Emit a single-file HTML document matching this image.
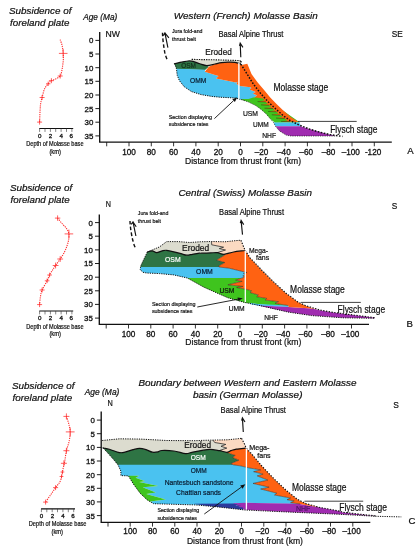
<!DOCTYPE html>
<html><head><meta charset="utf-8"><title>Molasse Basin</title>
<style>
html,body{margin:0;padding:0;background:#fff;}
svg{display:block;font-family:"Liberation Sans", sans-serif;}
</style></head><body>
<svg width="419" height="550" viewBox="0 0 419 550">
<rect x="0" y="0" width="419" height="550" fill="#fff"/>
<text x="9" y="13.8" font-size="9.9" font-style="italic" fill="#111" stroke="#111" stroke-width="0.22" textLength="62.4" lengthAdjust="spacingAndGlyphs">Subsidence of</text>
<text x="10" y="25.6" font-size="9.9" font-style="italic" fill="#111" stroke="#111" stroke-width="0.22" textLength="59.4" lengthAdjust="spacingAndGlyphs">foreland plate</text>
<path d="M60.2 39.6 C60.5 40.7 61.7 43.7 62.2 46 C62.7 48.3 63.0 51.1 63.2 53.4 C63.4 55.7 63.4 58.0 63.3 60 C63.2 62.0 63.0 63.4 62.7 65.2 C62.5 67.0 62.2 69.2 61.8 71 C61.4 72.8 61.2 74.7 60.2 76 C59.2 77.3 57.5 78.0 56 78.8 C54.5 79.6 52.6 79.9 51.4 80.7 C50.1 81.5 49.6 82.2 48.5 83.5 C47.4 84.8 45.7 86.5 44.6 88.8 C43.5 91.1 42.8 95.0 42.1 97.5 C41.4 100.0 40.9 101.9 40.6 104 C40.3 106.1 40.3 107.0 40.1 110 C39.9 113.0 39.7 120.1 39.6 122.1" fill="none" stroke="#ff2a2a" stroke-width="1.1" stroke-dasharray="1.2 1" />
<path d="M58.900000000000006 53.4 H67.5 M63.2 49.1 V57.699999999999996" fill="none" stroke="#ff2a2a" stroke-width="0.75" />
<path d="M57.7 76 H62.7 M60.2 73.5 V78.5" fill="none" stroke="#ff2a2a" stroke-width="0.75" />
<path d="M48.9 80.7 H53.9 M51.4 78.2 V83.2" fill="none" stroke="#ff2a2a" stroke-width="0.75" />
<path d="M46.0 83.8 H50.400000000000006 M48.2 81.6 V86.0" fill="none" stroke="#ff2a2a" stroke-width="0.75" />
<path d="M39.6 97.5 H44.6 M42.1 95.0 V100.0" fill="none" stroke="#ff2a2a" stroke-width="0.75" />
<path d="M37.1 122.1 H42.1 M39.6 119.6 V124.6" fill="none" stroke="#ff2a2a" stroke-width="0.75" />
<path d="M39.300000000000004 128.5 H73.2" fill="none" stroke="#111" stroke-width="1.15" />
<path d="M39.6 128.5 V131.9" fill="none" stroke="#333" stroke-width="0.6" />
<text x="39.8" y="137.6" font-size="6.2" text-anchor="middle" fill="#111" stroke="#111" stroke-width="0.3">0</text>
<path d="M45.0 128.5 V131.9" fill="none" stroke="#333" stroke-width="0.6" />
<path d="M50.4 128.5 V131.9" fill="none" stroke="#333" stroke-width="0.6" />
<text x="50.6" y="137.6" font-size="6.2" text-anchor="middle" fill="#111" stroke="#111" stroke-width="0.3">2</text>
<path d="M55.7 128.5 V131.9" fill="none" stroke="#333" stroke-width="0.6" />
<path d="M61.1 128.5 V131.9" fill="none" stroke="#333" stroke-width="0.6" />
<text x="61.3" y="137.6" font-size="6.2" text-anchor="middle" fill="#111" stroke="#111" stroke-width="0.3">4</text>
<path d="M66.5 128.5 V131.9" fill="none" stroke="#333" stroke-width="0.6" />
<path d="M71.9 128.5 V131.9" fill="none" stroke="#333" stroke-width="0.6" />
<text x="71.2" y="137.6" font-size="6.2" text-anchor="middle" fill="#111" stroke="#111" stroke-width="0.3">6</text>
<text x="26.3" y="146.4" font-size="6.3" fill="#111" stroke="#111" stroke-width="0.2" textLength="57.2" lengthAdjust="spacingAndGlyphs">Depth of Molasse base</text>
<text x="49.4" y="154.0" font-size="6.3" fill="#111" stroke="#111" stroke-width="0.2" textLength="11.5" lengthAdjust="spacingAndGlyphs">(km)</text>
<text x="83.2" y="20.3" font-size="8.6" font-style="italic" fill="#111" stroke="#111" stroke-width="0.22" textLength="34.1" lengthAdjust="spacingAndGlyphs">Age (Ma)</text>
<text x="173.8" y="19.1" font-size="9.9" font-style="italic" fill="#111" stroke="#111" stroke-width="0.22" textLength="144.0" lengthAdjust="spacingAndGlyphs">Western (French) Molasse Basin</text>
<text x="105.4" y="36.6" font-size="9.6" fill="#111" stroke="#111" stroke-width="0.22" textLength="14.4" lengthAdjust="spacingAndGlyphs">NW</text>
<text x="391.8" y="36.7" font-size="9.6" fill="#111" stroke="#111" stroke-width="0.22" textLength="11.0" lengthAdjust="spacingAndGlyphs">SE</text>
<path d="M99.7 32 V142.1 H391.8" fill="none" stroke="#111" stroke-width="1.35" />
<path d="M95.4 40.4 H99.7" fill="none" stroke="#111" stroke-width="0.95" />
<text x="93.3" y="43.3" font-size="7.9" text-anchor="end" fill="#111" stroke="#111" stroke-width="0.3">0</text>
<path d="M95.4 54.0 H99.7" fill="none" stroke="#111" stroke-width="0.95" />
<text x="93.3" y="56.9" font-size="7.9" text-anchor="end" fill="#111" stroke="#111" stroke-width="0.3">5</text>
<path d="M95.4 67.7 H99.7" fill="none" stroke="#111" stroke-width="0.95" />
<text x="93.3" y="70.6" font-size="7.9" text-anchor="end" fill="#111" stroke="#111" stroke-width="0.3">10</text>
<path d="M95.4 81.3 H99.7" fill="none" stroke="#111" stroke-width="0.95" />
<text x="93.3" y="84.2" font-size="7.9" text-anchor="end" fill="#111" stroke="#111" stroke-width="0.3">15</text>
<path d="M95.4 95.0 H99.7" fill="none" stroke="#111" stroke-width="0.95" />
<text x="93.3" y="97.9" font-size="7.9" text-anchor="end" fill="#111" stroke="#111" stroke-width="0.3">20</text>
<path d="M95.4 108.6 H99.7" fill="none" stroke="#111" stroke-width="0.95" />
<text x="93.3" y="111.5" font-size="7.9" text-anchor="end" fill="#111" stroke="#111" stroke-width="0.3">25</text>
<path d="M95.4 122.2 H99.7" fill="none" stroke="#111" stroke-width="0.95" />
<text x="93.3" y="125.1" font-size="7.9" text-anchor="end" fill="#111" stroke="#111" stroke-width="0.3">30</text>
<path d="M95.4 135.9 H99.7" fill="none" stroke="#111" stroke-width="0.95" />
<text x="93.3" y="138.8" font-size="7.9" text-anchor="end" fill="#111" stroke="#111" stroke-width="0.3">35</text>
<path d="M106.7 142.1 V146.29999999999998" fill="none" stroke="#111" stroke-width="0.85" />
<path d="M129.0 142.1 V146.29999999999998" fill="none" stroke="#111" stroke-width="0.85" />
<text x="129.0" y="154.9" font-size="8.2" text-anchor="middle" fill="#111" stroke="#111" stroke-width="0.3">100</text>
<path d="M151.3 142.1 V146.29999999999998" fill="none" stroke="#111" stroke-width="0.85" />
<text x="151.3" y="154.9" font-size="8.2" text-anchor="middle" fill="#111" stroke="#111" stroke-width="0.3">80</text>
<path d="M173.6 142.1 V146.29999999999998" fill="none" stroke="#111" stroke-width="0.85" />
<text x="173.6" y="154.9" font-size="8.2" text-anchor="middle" fill="#111" stroke="#111" stroke-width="0.3">60</text>
<path d="M195.9 142.1 V146.29999999999998" fill="none" stroke="#111" stroke-width="0.85" />
<text x="195.9" y="154.9" font-size="8.2" text-anchor="middle" fill="#111" stroke="#111" stroke-width="0.3">40</text>
<path d="M218.2 142.1 V146.29999999999998" fill="none" stroke="#111" stroke-width="0.85" />
<text x="218.2" y="154.9" font-size="8.2" text-anchor="middle" fill="#111" stroke="#111" stroke-width="0.3">20</text>
<path d="M240.5 142.1 V146.29999999999998" fill="none" stroke="#111" stroke-width="0.85" />
<text x="240.5" y="154.9" font-size="8.2" text-anchor="middle" fill="#111" stroke="#111" stroke-width="0.3">0</text>
<path d="M262.8 142.1 V146.29999999999998" fill="none" stroke="#111" stroke-width="0.85" />
<text x="261.6" y="154.9" font-size="8.2" text-anchor="middle" fill="#111" stroke="#111" stroke-width="0.3">–20</text>
<path d="M285.1 142.1 V146.29999999999998" fill="none" stroke="#111" stroke-width="0.85" />
<text x="283.9" y="154.9" font-size="8.2" text-anchor="middle" fill="#111" stroke="#111" stroke-width="0.3">–40</text>
<path d="M307.4 142.1 V146.29999999999998" fill="none" stroke="#111" stroke-width="0.85" />
<text x="306.2" y="154.9" font-size="8.2" text-anchor="middle" fill="#111" stroke="#111" stroke-width="0.3">–60</text>
<path d="M329.7 142.1 V146.29999999999998" fill="none" stroke="#111" stroke-width="0.85" />
<text x="328.5" y="154.9" font-size="8.2" text-anchor="middle" fill="#111" stroke="#111" stroke-width="0.3">–80</text>
<path d="M352.0 142.1 V146.29999999999998" fill="none" stroke="#111" stroke-width="0.85" />
<text x="350.8" y="154.9" font-size="8.2" text-anchor="middle" fill="#111" stroke="#111" stroke-width="0.3">–100</text>
<path d="M374.3 142.1 V146.29999999999998" fill="none" stroke="#111" stroke-width="0.85" />
<text x="373.1" y="154.9" font-size="8.2" text-anchor="middle" fill="#111" stroke="#111" stroke-width="0.3">-120</text>
<text x="185" y="164" font-size="9.8" fill="#111" stroke="#111" stroke-width="0.22" textLength="116" lengthAdjust="spacingAndGlyphs">Distance from thrust front (km)</text>
<text x="407.3" y="153.6" font-size="9.6" fill="#111" stroke="#111" stroke-width="0.22">A</text>
<path d="M188 61 L191.7 59.3 L215 59.7 L240.5 60.5 L240.9 64.2 L235 62.3 L228 62.1 L221.5 62.7 L215 64 L206.8 65.6 L199.8 63.8 L193 61.4 Z" fill="#dcdccf" />
<path d="M174.2 63.6 L181.7 62.2 L188 61 L193 61.4 L199.8 63.8 L206.8 65.6 L208.8 66.7 L205 69.9 L176.5 68.9 Z" fill="#2e7444" />
<path d="M176.5 68.7 L205 69.7 L204.8 71.8 L215 75 L218.5 76 L216 78.4 L235.9 82.6 L237.5 81.8 L236.5 84 L240 86 L250.4 87.2 L251.5 88 L249.4 89.5 L255.8 92 L252.9 93.4 L257.2 95.5 L254 97.3 L252 100.6 L246 100.2 L240 99.2 L235 98 L220 97.2 L211.8 96.4 L201 94.6 L191.5 91.6 L184.3 86.8 L179.5 80.8 L177.2 75.3 L176.5 69 Z" fill="#4ac2f0" />
<path d="M240.5 99 L248.6 98.9 L254 97.3 L262 96 L300 122.4 L275.1 122.8 L270.5 119 L266.5 114.3 L261.5 109.7 L255.8 105.6 L248.6 102.1 L244 100.4 Z" fill="#3fc41e" />
<path d="M254 97.3 L257.2 95.5 L252.9 93.4 L255.8 92 L249.4 89.5 L251.5 88 L250.4 87.2 L240 86 L236.5 84 L237.5 81.8 L235.9 82.6 L216 78.4 L218.5 76 L215 75 L204.8 71.8 L208.8 66.7 L215 64 L221.5 62.7 L228 62.1 L235 62.3 L240.9 64.2 L241.7 65 L247.3 63.8 L251.5 73.9 L257.5 82.3 L264.5 90.6 L270 97.3 L277 104.5 L283 110.2 L291 117.2 L298.6 122 L290.1 121.7 L281.1 121.4 L287.6 120.4 L284.7 118.4 L276.1 118.1 L282.9 117.1 L280.2 115.1 L271.8 114.8 L278.7 113.8 L276.5 111.8 L268.1 111.5 L275.1 110.5 L272.9 108.5 L264.5 108.2 L271.5 107.2 L269.3 105.2 L261.0 104.9 L267.9 103.9 L265.8 101.9 L257.6 101.6 L264.7 100.6 L262.9 98.6 Z" fill="#ff6212" />
<path d="M257.6 101.6 L265.8 101.9" fill="none" stroke="#0c3a0c" stroke-width="0.5" />
<path d="M261.0 104.9 L269.3 105.2" fill="none" stroke="#0c3a0c" stroke-width="0.5" />
<path d="M264.5 108.2 L272.9 108.5" fill="none" stroke="#0c3a0c" stroke-width="0.5" />
<path d="M268.1 111.5 L276.5 111.8" fill="none" stroke="#0c3a0c" stroke-width="0.5" />
<path d="M271.8 114.8 L280.2 115.1" fill="none" stroke="#0c3a0c" stroke-width="0.5" />
<path d="M276.1 118.1 L284.7 118.4" fill="none" stroke="#0c3a0c" stroke-width="0.5" />
<path d="M281.1 121.4 L290.1 121.7" fill="none" stroke="#0c3a0c" stroke-width="0.5" />
<path d="M273.5 122.6 L299.3 122.6 L300.8 126.2 L275.6 126.2 Z" fill="#4ac2f0" />
<path d="M275.6 126.2 L300.5 126.2 L313.9 130.3 L327.3 134.1 L336 135.9 L291 135.9 L286.2 135 L279.5 130.9 Z" fill="#a02cb0" />
<path d="M244 100.4 L248.6 102.1 L255.8 105.6 L261.5 109.7 L266.5 114.3 L270.5 119 L273.7 122.6 L275.7 126.6 L279.5 130.9 L286.2 135.2 L291 136 L336 136" fill="none" stroke="#111" stroke-width="0.7" stroke-dasharray="1.2 1.1" />
<path d="M174.2 63.6 C175.4 63.4 179.4 62.6 181.7 62.2 C184.0 61.8 186.1 61.1 188 61 C189.9 60.9 191.0 60.9 193 61.4 C195.0 61.9 197.5 63.1 199.8 63.8 C202.1 64.5 204.3 65.6 206.8 65.6 C209.3 65.6 212.6 64.5 215 64 C217.4 63.5 219.3 63.0 221.5 62.7 C223.7 62.4 225.8 62.2 228 62.1 C230.2 62.0 232.8 62.0 235 62.3 C237.2 62.6 239.9 63.7 240.9 64" fill="none" stroke="#111" stroke-width="1.2" />
<path d="M191.7 59.4 L215 59.8 L240.5 60.6" fill="none" stroke="#111" stroke-width="1.15" stroke-dasharray="1.3 1.1" />
<path d="M174.4 63.6 Q175.8 66 176.5 69 L177.2 75.3 L179.5 80.8 L184.3 86.8 L191.5 91.6 L201 94.6 L211.8 96.4 L220 97.2 L235 98 L240 99.2 L244 100.4" fill="none" stroke="#111" stroke-width="1.0" stroke-dasharray="1.2 1.1" />
<path d="M240.9 61 L240.9 64.2 L246.7 73.4 L253.3 84 L260.5 93.3 L268.6 102.3 L275.8 109 L283 115.5 L290.1 120.5 L299 125 L310 129.3 L320 132.3 L330 134.6 L342.5 136.4" fill="none" stroke="#111" stroke-width="1.5" stroke-dasharray="1.6 1.5" />
<path d="M238.9 62.8 V99.2" fill="none" stroke="#fff" stroke-width="1.4" />
<path d="M298 121.4 H356.7" fill="none" stroke="#111" stroke-width="0.8" />
<path d="M162.5 32.7 Q162.6 38 163.4 43.5 Q164 48.5 164.9 53 Q166 57.5 167.9 61" fill="none" stroke="#111" stroke-width="1.4" stroke-dasharray="3.6 2.2" />
<path d="M167.9 47.7 L164.9 32.9 M163.3 35.6 L164.9 32.9 L168.9 37.9" fill="none" stroke="#111" stroke-width="1.15" stroke-linejoin="miter"/>
<text x="172" y="33.3" font-size="6.0" fill="#111" stroke="#111" stroke-width="0.2" textLength="30.5" lengthAdjust="spacingAndGlyphs">Jura fold-and</text>
<text x="172" y="40.5" font-size="6.0" fill="#111" stroke="#111" stroke-width="0.2" textLength="23.9" lengthAdjust="spacingAndGlyphs">thrust belt</text>
<text x="218.5" y="37" font-size="8.8" fill="#111" stroke="#111" stroke-width="0.22" textLength="64.9" lengthAdjust="spacingAndGlyphs">Basal Alpine Thrust</text>
<path d="M240.8 57.3 L240.2 43.2 M239.5 45.8 L240.2 43.2 L242.9 47.4" fill="none" stroke="#111" stroke-width="1.15" stroke-linejoin="miter"/>
<text x="205.3" y="55.2" font-size="9.6" fill="#111" stroke="#111" stroke-width="0.22" textLength="26.5" lengthAdjust="spacingAndGlyphs">Eroded</text>
<text x="181.2" y="68" font-size="7.6" fill="#12301c" stroke="#12301c" stroke-width="0.22" textLength="14.8" lengthAdjust="spacingAndGlyphs">OSM</text>
<text x="190" y="83.4" font-size="8" fill="#0a1c30" stroke="#0a1c30" stroke-width="0.22" textLength="16.4" lengthAdjust="spacingAndGlyphs">OMM</text>
<text x="168.8" y="118.6" font-size="6.0" fill="#111" stroke="#111" stroke-width="0.2" textLength="43.2" lengthAdjust="spacingAndGlyphs">Section displaying</text>
<text x="168.8" y="125.8" font-size="6.0" fill="#111" stroke="#111" stroke-width="0.2" textLength="39.7" lengthAdjust="spacingAndGlyphs">subsidence rates</text>
<path d="M214.4 118.6 L233.6 100.6" fill="none" stroke="#111" stroke-width="0.9" />
<path d="M237.3 97.2 L234.9 102.0 L232.3 99.2 Z" fill="#111" />
<text x="242.9" y="116.2" font-size="8" fill="#111" stroke="#111" stroke-width="0.22" textLength="15.1" lengthAdjust="spacingAndGlyphs">USM</text>
<text x="253" y="127.4" font-size="8" fill="#111" stroke="#111" stroke-width="0.22" textLength="15.6" lengthAdjust="spacingAndGlyphs">UMM</text>
<text x="262.2" y="137.7" font-size="8" fill="#111" stroke="#111" stroke-width="0.22" textLength="13.8" lengthAdjust="spacingAndGlyphs">NHF</text>
<text x="273.5" y="91.3" font-size="10.3" fill="#111" stroke="#111" stroke-width="0.22" textLength="54.8" lengthAdjust="spacingAndGlyphs">Molasse stage</text>
<text x="330.2" y="132.5" font-size="10.3" fill="#111" stroke="#111" stroke-width="0.22" textLength="47.3" lengthAdjust="spacingAndGlyphs">Flysch stage</text>
<text x="10" y="190.6" font-size="9.9" font-style="italic" fill="#111" stroke="#111" stroke-width="0.22" textLength="62.2" lengthAdjust="spacingAndGlyphs">Subsidence of</text>
<text x="10.5" y="202.6" font-size="9.9" font-style="italic" fill="#111" stroke="#111" stroke-width="0.22" textLength="59.2" lengthAdjust="spacingAndGlyphs">foreland plate</text>
<path d="M57.6 218.1 C58.3 219.0 60.5 221.8 62 223.5 C63.5 225.2 65.3 226.8 66.5 228.5 C67.7 230.2 68.6 232.0 68.9 233.9 C69.2 235.8 68.9 238.1 68.6 240 C68.3 241.9 67.9 243.2 67.2 245.2 C66.5 247.2 65.7 249.7 64.5 252 C63.3 254.3 61.7 256.8 60.2 259 C58.7 261.2 56.9 263.7 55.6 265.5 C54.3 267.3 53.6 268.4 52.6 270 C51.6 271.6 50.5 273.2 49.6 275 C48.7 276.8 48.4 278.3 47.1 280.8 C45.9 283.3 43.2 287.3 42.1 290 C41.0 292.7 40.8 294.6 40.4 297 C40.0 299.4 39.7 303.3 39.6 304.6" fill="none" stroke="#ff2a2a" stroke-width="1.1" stroke-dasharray="1.2 1" />
<path d="M54.9 218.1 H60.300000000000004 M57.6 215.4 V220.79999999999998" fill="none" stroke="#ff2a2a" stroke-width="0.75" />
<path d="M64.60000000000001 233.9 H73.2 M68.9 229.6 V238.20000000000002" fill="none" stroke="#ff2a2a" stroke-width="0.75" />
<path d="M57.300000000000004 259 H63.1 M60.2 256.1 V261.9" fill="none" stroke="#ff2a2a" stroke-width="0.75" />
<path d="M52.7 265.5 H58.5 M55.6 262.6 V268.4" fill="none" stroke="#ff2a2a" stroke-width="0.75" />
<path d="M47.300000000000004 275 H51.9 M49.6 272.7 V277.3" fill="none" stroke="#ff2a2a" stroke-width="0.75" />
<path d="M44.800000000000004 280.8 H49.4 M47.1 278.5 V283.1" fill="none" stroke="#ff2a2a" stroke-width="0.75" />
<path d="M39.6 290 H44.6 M42.1 287.5 V292.5" fill="none" stroke="#ff2a2a" stroke-width="0.75" />
<path d="M37.1 304.6 H42.1 M39.6 302.1 V307.1" fill="none" stroke="#ff2a2a" stroke-width="0.75" />
<path d="M39.300000000000004 311.0 H73.2" fill="none" stroke="#111" stroke-width="1.15" />
<path d="M39.6 311.0 V314.40000000000003" fill="none" stroke="#333" stroke-width="0.6" />
<text x="39.8" y="319.7" font-size="6.2" text-anchor="middle" fill="#111" stroke="#111" stroke-width="0.3">0</text>
<path d="M45.0 311.0 V314.40000000000003" fill="none" stroke="#333" stroke-width="0.6" />
<path d="M50.4 311.0 V314.40000000000003" fill="none" stroke="#333" stroke-width="0.6" />
<text x="50.6" y="319.7" font-size="6.2" text-anchor="middle" fill="#111" stroke="#111" stroke-width="0.3">2</text>
<path d="M55.7 311.0 V314.40000000000003" fill="none" stroke="#333" stroke-width="0.6" />
<path d="M61.1 311.0 V314.40000000000003" fill="none" stroke="#333" stroke-width="0.6" />
<text x="61.3" y="319.7" font-size="6.2" text-anchor="middle" fill="#111" stroke="#111" stroke-width="0.3">4</text>
<path d="M66.5 311.0 V314.40000000000003" fill="none" stroke="#333" stroke-width="0.6" />
<path d="M71.9 311.0 V314.40000000000003" fill="none" stroke="#333" stroke-width="0.6" />
<text x="71.2" y="319.7" font-size="6.2" text-anchor="middle" fill="#111" stroke="#111" stroke-width="0.3">6</text>
<text x="26.3" y="329" font-size="6.3" fill="#111" stroke="#111" stroke-width="0.2" textLength="57.2" lengthAdjust="spacingAndGlyphs">Depth of Molasse base</text>
<text x="49.4" y="336.1" font-size="6.3" fill="#111" stroke="#111" stroke-width="0.2" textLength="11.5" lengthAdjust="spacingAndGlyphs">(km)</text>
<text x="178.5" y="196.2" font-size="9.9" font-style="italic" fill="#111" stroke="#111" stroke-width="0.22" textLength="133.5" lengthAdjust="spacingAndGlyphs">Central (Swiss) Molasse Basin</text>
<text x="105.7" y="207.3" font-size="9.6" fill="#111" stroke="#111" stroke-width="0.22" textLength="5.2" lengthAdjust="spacingAndGlyphs">N</text>
<text x="391.8" y="209.3" font-size="9.6" fill="#111" stroke="#111" stroke-width="0.22" textLength="5.5" lengthAdjust="spacingAndGlyphs">S</text>
<path d="M99.3 214.6 V324.3 H369" fill="none" stroke="#111" stroke-width="1.35" />
<path d="M95.0 222.6 H99.3" fill="none" stroke="#111" stroke-width="0.95" />
<text x="92.89999999999999" y="225.5" font-size="7.9" text-anchor="end" fill="#111" stroke="#111" stroke-width="0.3">0</text>
<path d="M95.0 236.2 H99.3" fill="none" stroke="#111" stroke-width="0.95" />
<text x="92.89999999999999" y="239.1" font-size="7.9" text-anchor="end" fill="#111" stroke="#111" stroke-width="0.3">5</text>
<path d="M95.0 249.9 H99.3" fill="none" stroke="#111" stroke-width="0.95" />
<text x="92.89999999999999" y="252.8" font-size="7.9" text-anchor="end" fill="#111" stroke="#111" stroke-width="0.3">10</text>
<path d="M95.0 263.5 H99.3" fill="none" stroke="#111" stroke-width="0.95" />
<text x="92.89999999999999" y="266.4" font-size="7.9" text-anchor="end" fill="#111" stroke="#111" stroke-width="0.3">15</text>
<path d="M95.0 277.2 H99.3" fill="none" stroke="#111" stroke-width="0.95" />
<text x="92.89999999999999" y="280.1" font-size="7.9" text-anchor="end" fill="#111" stroke="#111" stroke-width="0.3">20</text>
<path d="M95.0 290.8 H99.3" fill="none" stroke="#111" stroke-width="0.95" />
<text x="92.89999999999999" y="293.7" font-size="7.9" text-anchor="end" fill="#111" stroke="#111" stroke-width="0.3">25</text>
<path d="M95.0 304.4 H99.3" fill="none" stroke="#111" stroke-width="0.95" />
<text x="92.89999999999999" y="307.3" font-size="7.9" text-anchor="end" fill="#111" stroke="#111" stroke-width="0.3">30</text>
<path d="M95.0 318.1 H99.3" fill="none" stroke="#111" stroke-width="0.95" />
<text x="92.89999999999999" y="321.0" font-size="7.9" text-anchor="end" fill="#111" stroke="#111" stroke-width="0.3">35</text>
<path d="M106.2 324.3 V328.5" fill="none" stroke="#111" stroke-width="0.85" />
<path d="M128.5 324.3 V328.5" fill="none" stroke="#111" stroke-width="0.85" />
<text x="128.5" y="337" font-size="8.2" text-anchor="middle" fill="#111" stroke="#111" stroke-width="0.3">100</text>
<path d="M150.8 324.3 V328.5" fill="none" stroke="#111" stroke-width="0.85" />
<text x="150.8" y="337" font-size="8.2" text-anchor="middle" fill="#111" stroke="#111" stroke-width="0.3">80</text>
<path d="M173.1 324.3 V328.5" fill="none" stroke="#111" stroke-width="0.85" />
<text x="173.1" y="337" font-size="8.2" text-anchor="middle" fill="#111" stroke="#111" stroke-width="0.3">60</text>
<path d="M195.4 324.3 V328.5" fill="none" stroke="#111" stroke-width="0.85" />
<text x="195.4" y="337" font-size="8.2" text-anchor="middle" fill="#111" stroke="#111" stroke-width="0.3">40</text>
<path d="M217.7 324.3 V328.5" fill="none" stroke="#111" stroke-width="0.85" />
<text x="217.7" y="337" font-size="8.2" text-anchor="middle" fill="#111" stroke="#111" stroke-width="0.3">20</text>
<path d="M240.0 324.3 V328.5" fill="none" stroke="#111" stroke-width="0.85" />
<text x="240.0" y="337" font-size="8.2" text-anchor="middle" fill="#111" stroke="#111" stroke-width="0.3">0</text>
<path d="M262.3 324.3 V328.5" fill="none" stroke="#111" stroke-width="0.85" />
<text x="261.1" y="337" font-size="8.2" text-anchor="middle" fill="#111" stroke="#111" stroke-width="0.3">–20</text>
<path d="M284.6 324.3 V328.5" fill="none" stroke="#111" stroke-width="0.85" />
<text x="283.4" y="337" font-size="8.2" text-anchor="middle" fill="#111" stroke="#111" stroke-width="0.3">–40</text>
<path d="M306.9 324.3 V328.5" fill="none" stroke="#111" stroke-width="0.85" />
<text x="305.7" y="337" font-size="8.2" text-anchor="middle" fill="#111" stroke="#111" stroke-width="0.3">–60</text>
<path d="M329.2 324.3 V328.5" fill="none" stroke="#111" stroke-width="0.85" />
<text x="328.0" y="337" font-size="8.2" text-anchor="middle" fill="#111" stroke="#111" stroke-width="0.3">–80</text>
<path d="M351.5 324.3 V328.5" fill="none" stroke="#111" stroke-width="0.85" />
<text x="350.3" y="337" font-size="8.2" text-anchor="middle" fill="#111" stroke="#111" stroke-width="0.3">–100</text>
<text x="185.3" y="345" font-size="9.8" fill="#111" stroke="#111" stroke-width="0.22" textLength="116.0" lengthAdjust="spacingAndGlyphs">Distance from thrust front (km)</text>
<text x="406.6" y="326.5" font-size="9.6" fill="#111" stroke="#111" stroke-width="0.22">B</text>
<path d="M147.3 252 L159.5 246.9 L166.6 241.6 L178 241.6 L189.7 242.5 L200 241.8 L211.5 241.6 L211.7 244.8 L223.6 247.2 L219.3 248.6 L225.5 250 L217.4 252.6 L217.4 252.7 L210.7 252.9 L201.6 253.2 L198.0 253.3 L192.4 254.3 L186.7 255.2 L181.0 253.7 L173.8 251.8 L166.6 250.3 L162.3 250.8 L156.6 252.6 L152.3 250.8 L147.3 252.0 Z" fill="#dcdccf" />
<path d="M211.5 241.6 L225 241.8 L234 240.8 L240.9 240.2 L245.1 250.6 L233.6 252 L224 254.3 L217.4 252.6 L225.5 250 L219.3 248.6 L223.6 247.2 L211.7 244.8 Z" fill="#fbdac2" />
<path d="M147.3 252 L152.3 250.8 L156.6 252.6 L162.3 250.8 L166.6 250.3 L173.8 251.8 L181 253.7 L186.7 255.2 L192.4 254.3 L198 253.3 L201.6 253.2 L210.7 252.9 L217.4 252.7 L224 254.3 L225.5 254.5 L216.6 260.1 L224.9 262.5 L218.9 265.8 L218.9 267.3 L140.6 267.3 L140.9 265.5 Z" fill="#2e7444" />
<path d="M140.6 267 L218.9 267 L229.1 268.2 L245.8 272.3 L247 272.5 L243.4 273.5 L245.8 274.7 L242.8 275.9 L244.6 276.8 L242.2 277.9 L187.3 278 L173.8 274.9 L159.5 273.6 L146.6 273 L143 272.3 L140.1 269.5 Z" fill="#4ac2f0" />
<path d="M187.3 277.9 L242.2 277.9 L235.7 280.1 L242.2 281.3 L227.9 284.8 L242.8 286.4 L236.7 287.6 L245.9 289.2 L251.7 290.9 L250 292.5 L258.4 295 L256.7 296.7 L266.8 298.4 L265.1 300 L278.5 301.7 L275.1 303.4 L288.5 305.6 L280.1 305.9 L258.4 304.2 L245.3 302.7 L244.4 302.4 L227.7 297.7 L203.9 287.2 Z" fill="#3fc41e" />
<path d="M249 302.8 L258.4 304 L288.5 305.6 L288.5 307 L261 306.2 L251.6 304.4 Z" fill="#4ac2f0" />
<path d="M258 305.4 L288.5 306.9 L311.6 308.5 L321 310.5 L333.3 312.5 L354.8 315.3 L375 317.8 L375 318.3 L342.9 317.8 L319 315.9 L311.6 315.6 L287.7 312 Z" fill="#a02cb0" />
<path d="M225.5 254.5 L233.4 251.9 L245.1 250.6 L250 258 L261.9 270.5 L273.9 282.4 L285.8 293.2 L297.7 302.1 L306 306 L316 309.3 L311.6 308.5 L288.5 306.9 L288.5 305.6 L275.1 303.4 L278.5 301.7 L265.1 300 L266.8 298.4 L256.7 296.7 L258.4 295 L250 292.5 L251.7 290.9 L245.9 289.2 L236.7 287.6 L242.8 286.4 L227.9 284.8 L242.2 281.3 L235.7 280.1 L242.2 277.9 L242.2 277.9 L244.6 276.8 L242.8 275.9 L245.8 274.7 L243.4 273.5 L247 272.5 L245.8 272.3 L229.1 268.2 L218.9 267 L218.9 265.8 L224.9 262.5 L216.6 260.1 L225.5 254.5 Z" fill="#ff6212" />
<path d="M225.5 254.5 L216.6 260.1 L224.9 262.5 L218.9 265.8 L218.9 267 L229.1 268.2 L245.8 272.3 L247 272.5 L243.4 273.5 L245.8 274.7 L242.8 275.9 L244.6 276.8 L242.2 277.9 L242.2 277.9 L235.7 280.1 L242.2 281.3 L227.9 284.8 L242.8 286.4 L236.7 287.6 L245.9 289.2 L251.7 290.9 L250 292.5 L258.4 295 L256.7 296.7 L266.8 298.4 L265.1 300 L278.5 301.7 L275.1 303.4 L288.5 305.6" fill="none" stroke="#1a1a1a" stroke-width="0.45" stroke-linejoin="round"/>
<path d="M147.3 252 C148.1 251.8 150.8 250.7 152.3 250.8 C153.9 250.9 154.9 252.6 156.6 252.6 C158.3 252.6 160.6 251.2 162.3 250.8 C164.0 250.4 164.7 250.1 166.6 250.3 C168.5 250.5 171.4 251.2 173.8 251.8 C176.2 252.4 178.8 253.1 181 253.7 C183.2 254.3 184.8 255.1 186.7 255.2 C188.6 255.3 190.5 254.6 192.4 254.3 C194.3 254.0 196.5 253.5 198 253.3 C199.5 253.1 199.5 253.3 201.6 253.2 C203.7 253.1 208.1 253.0 210.7 252.9 C213.3 252.8 215.2 252.5 217.4 252.7 C219.6 252.9 221.3 254.4 224 254.3 C226.7 254.2 230.1 252.6 233.6 252 C237.1 251.4 243.2 250.8 245.1 250.5" fill="none" stroke="#111" stroke-width="1.2" />
<path d="M211.5 241.6 L211.7 244.8 L223.6 247.2 L219.3 248.6 L225.5 250 L217.4 252.6" fill="none" stroke="#111" stroke-width="0.7" />
<path d="M147.3 252 L159.5 246.9 L166.6 241.6 L178 241.6 L189.7 242.5 L200 241.8 L211.5 241.5 L225 241.8 L234 240.8 L240.9 240.2" fill="none" stroke="#111" stroke-width="1.0" stroke-dasharray="1.2 1.1" />
<path d="M147.3 252 L140.9 265.5 L140.1 269.5 L143 272.3 L146.6 273 L159.5 273.6 L173.8 274.9 L187.3 278 L203.9 287.2 L227.7 297.7 L244.4 302.4 L261.1 305.8 L287.7 312 L311.6 315.6 L342.9 317.8 L375 318.3" fill="none" stroke="#111" stroke-width="1.0" stroke-dasharray="1.2 1.1" />
<path d="M240.9 240.2 L245.1 250.3 L250 257.8 L261.9 270.3 L273.9 282.2 L285.8 293 L297.7 301.9 L306 305.8 L321 310.3 L333.3 312.4 L354.8 315.2 L375 317.7" fill="none" stroke="#111" stroke-width="1.15" stroke-dasharray="1.4 1.4" />
<path d="M245.3 250.5 V302" fill="none" stroke="#fff" stroke-width="1.3" />
<path d="M300.9 302.4 H360.8" fill="none" stroke="#111" stroke-width="0.8" />
<path d="M130 220.9 Q130.2 227 131.4 233.4 Q132 237.5 133 241 Q134 245.5 135.9 248.8" fill="none" stroke="#111" stroke-width="1.4" stroke-dasharray="3.6 2.2" />
<path d="M135.9 236 L133 221.9 M131.2 224.4 L133 221.9 L136.2 226.7" fill="none" stroke="#111" stroke-width="1.15" stroke-linejoin="miter"/>
<text x="137.8" y="215" font-size="6.0" fill="#111" stroke="#111" stroke-width="0.2" textLength="30.6" lengthAdjust="spacingAndGlyphs">Jura fold-and</text>
<text x="137.8" y="222.8" font-size="6.0" fill="#111" stroke="#111" stroke-width="0.2" textLength="23.2" lengthAdjust="spacingAndGlyphs">thrust belt</text>
<text x="219.1" y="214.8" font-size="8.8" fill="#111" stroke="#111" stroke-width="0.22" textLength="64.9" lengthAdjust="spacingAndGlyphs">Basal Alpine Thrust</text>
<path d="M242.5 234.6 L241.1 220.5 M240.3 223.2 L241.1 220.5 L243.7 224.6" fill="none" stroke="#111" stroke-width="1.15" stroke-linejoin="miter"/>
<text x="182" y="250.5" font-size="9.6" fill="#111" stroke="#111" stroke-width="0.22" textLength="27.2" lengthAdjust="spacingAndGlyphs">Eroded</text>
<text x="165" y="262.2" font-size="7.6" fill="#fff" stroke="#fff" stroke-width="0.22" textLength="15.6" lengthAdjust="spacingAndGlyphs">OSM</text>
<text x="196.1" y="274.4" font-size="8" fill="#0a1c30" stroke="#0a1c30" stroke-width="0.22" textLength="16.7" lengthAdjust="spacingAndGlyphs">OMM</text>
<text x="248.9" y="252.5" font-size="8" fill="#111" stroke="#111" stroke-width="0.22" textLength="19.1" lengthAdjust="spacingAndGlyphs">Mega-</text>
<text x="256" y="259.7" font-size="8" fill="#111" stroke="#111" stroke-width="0.22" textLength="13.1" lengthAdjust="spacingAndGlyphs">fans</text>
<text x="151.9" y="306" font-size="6.0" fill="#111" stroke="#111" stroke-width="0.2" textLength="43.5" lengthAdjust="spacingAndGlyphs">Section displaying</text>
<text x="151.9" y="313.2" font-size="6.0" fill="#111" stroke="#111" stroke-width="0.2" textLength="40.6" lengthAdjust="spacingAndGlyphs">subsidence rates</text>
<path d="M197.3 307 L237.9 299.2" fill="none" stroke="#111" stroke-width="0.9" />
<path d="M242.8 298.3 L238.2 301.1 L237.5 297.4 Z" fill="#111" />
<text x="219.4" y="293.4" font-size="8" fill="#111" stroke="#111" stroke-width="0.22" textLength="15.0" lengthAdjust="spacingAndGlyphs">USM</text>
<text x="228.7" y="310.8" font-size="8" fill="#111" stroke="#111" stroke-width="0.22" textLength="16.0" lengthAdjust="spacingAndGlyphs">UMM</text>
<text x="264.2" y="320.1" font-size="8" fill="#111" stroke="#111" stroke-width="0.22" textLength="13.7" lengthAdjust="spacingAndGlyphs">NHF</text>
<text x="290.1" y="293.3" font-size="10.3" fill="#111" stroke="#111" stroke-width="0.22" textLength="54.7" lengthAdjust="spacingAndGlyphs">Molasse stage</text>
<text x="337.6" y="313.3" font-size="10.3" fill="#111" stroke="#111" stroke-width="0.22" textLength="47.5" lengthAdjust="spacingAndGlyphs">Flysch stage</text>
<text x="12" y="388.8" font-size="9.9" font-style="italic" fill="#111" stroke="#111" stroke-width="0.22" textLength="62.4" lengthAdjust="spacingAndGlyphs">Subsidence of</text>
<text x="12.5" y="400.6" font-size="9.9" font-style="italic" fill="#111" stroke="#111" stroke-width="0.22" textLength="59.7" lengthAdjust="spacingAndGlyphs">foreland plate</text>
<path d="M66.4 416.4 C66.8 417.7 68.2 421.4 68.8 424 C69.4 426.6 70.1 429.1 70.2 431.9 C70.3 434.7 69.8 437.9 69.2 441 C68.6 444.1 67.2 447.3 66.4 450.7 C65.7 454.1 65.2 458.6 64.7 461.5 C64.2 464.4 63.6 465.9 63.2 468 C62.8 470.1 62.7 471.6 62.2 473.8 C61.7 476.0 61.3 479.0 60.2 481.3 C59.1 483.6 57.2 485.3 55.6 487.6 C54.0 489.9 52.2 492.6 50.5 495 C48.8 497.4 46.4 500.9 45.6 502.1" fill="none" stroke="#ff2a2a" stroke-width="1.1" stroke-dasharray="1.2 1" />
<path d="M63.400000000000006 416.4 H69.4 M66.4 413.4 V419.4" fill="none" stroke="#ff2a2a" stroke-width="0.75" />
<path d="M65.8 431.9 H74.60000000000001 M70.2 427.5 V436.29999999999995" fill="none" stroke="#ff2a2a" stroke-width="0.75" />
<path d="M63.400000000000006 450.7 H69.4 M66.4 447.7 V453.7" fill="none" stroke="#ff2a2a" stroke-width="0.75" />
<path d="M60.9 463.3 H66.9 M63.9 460.3 V466.3" fill="none" stroke="#ff2a2a" stroke-width="0.75" />
<path d="M60.5 472 H64.3 M62.4 470.1 V473.9" fill="none" stroke="#ff2a2a" stroke-width="0.75" />
<path d="M59.6 476.5 H63.4 M61.5 474.6 V478.4" fill="none" stroke="#ff2a2a" stroke-width="0.75" />
<path d="M53.1 487.6 H58.1 M55.6 485.1 V490.1" fill="none" stroke="#ff2a2a" stroke-width="0.75" />
<path d="M43.1 502.1 H48.1 M45.6 499.6 V504.6" fill="none" stroke="#ff2a2a" stroke-width="0.75" />
<path d="M41.1 508.79999999999995 H75.0" fill="none" stroke="#111" stroke-width="1.15" />
<path d="M41.4 508.79999999999995 V512.1999999999999" fill="none" stroke="#333" stroke-width="0.6" />
<text x="41.6" y="517.7" font-size="6.2" text-anchor="middle" fill="#111" stroke="#111" stroke-width="0.3">0</text>
<path d="M46.8 508.79999999999995 V512.1999999999999" fill="none" stroke="#333" stroke-width="0.6" />
<path d="M52.2 508.79999999999995 V512.1999999999999" fill="none" stroke="#333" stroke-width="0.6" />
<text x="52.4" y="517.7" font-size="6.2" text-anchor="middle" fill="#111" stroke="#111" stroke-width="0.3">2</text>
<path d="M57.5 508.79999999999995 V512.1999999999999" fill="none" stroke="#333" stroke-width="0.6" />
<path d="M62.9 508.79999999999995 V512.1999999999999" fill="none" stroke="#333" stroke-width="0.6" />
<text x="63.1" y="517.7" font-size="6.2" text-anchor="middle" fill="#111" stroke="#111" stroke-width="0.3">4</text>
<path d="M68.3 508.79999999999995 V512.1999999999999" fill="none" stroke="#333" stroke-width="0.6" />
<path d="M73.7 508.79999999999995 V512.1999999999999" fill="none" stroke="#333" stroke-width="0.6" />
<text x="73.0" y="517.7" font-size="6.2" text-anchor="middle" fill="#111" stroke="#111" stroke-width="0.3">6</text>
<text x="28.8" y="526.4" font-size="6.3" fill="#111" stroke="#111" stroke-width="0.2" textLength="57.7" lengthAdjust="spacingAndGlyphs">Depth of Molasse base</text>
<text x="51.5" y="533.6" font-size="6.3" fill="#111" stroke="#111" stroke-width="0.2" textLength="11.5" lengthAdjust="spacingAndGlyphs">(km)</text>
<text x="84.7" y="394.5" font-size="8.6" font-style="italic" fill="#111" stroke="#111" stroke-width="0.22" textLength="34.7" lengthAdjust="spacingAndGlyphs">Age (Ma)</text>
<text x="138.4" y="386.2" font-size="9.9" font-style="italic" fill="#111" stroke="#111" stroke-width="0.22" textLength="218.1" lengthAdjust="spacingAndGlyphs">Boundary between Western and Eastern Molasse</text>
<text x="192.9" y="397.8" font-size="9.9" font-style="italic" fill="#111" stroke="#111" stroke-width="0.22" textLength="109.6" lengthAdjust="spacingAndGlyphs">basin (German Molasse)</text>
<text x="107.4" y="405.9" font-size="9.6" fill="#111" stroke="#111" stroke-width="0.22" textLength="5.3" lengthAdjust="spacingAndGlyphs">N</text>
<text x="393.2" y="407.6" font-size="9.6" fill="#111" stroke="#111" stroke-width="0.22" textLength="5.6" lengthAdjust="spacingAndGlyphs">S</text>
<path d="M101.2 411.4 V522.4 H370.3" fill="none" stroke="#111" stroke-width="1.35" />
<path d="M96.9 420.1 H101.2" fill="none" stroke="#111" stroke-width="0.95" />
<text x="94.8" y="423.0" font-size="7.9" text-anchor="end" fill="#111" stroke="#111" stroke-width="0.3">0</text>
<path d="M96.9 433.7 H101.2" fill="none" stroke="#111" stroke-width="0.95" />
<text x="94.8" y="436.6" font-size="7.9" text-anchor="end" fill="#111" stroke="#111" stroke-width="0.3">5</text>
<path d="M96.9 447.4 H101.2" fill="none" stroke="#111" stroke-width="0.95" />
<text x="94.8" y="450.3" font-size="7.9" text-anchor="end" fill="#111" stroke="#111" stroke-width="0.3">10</text>
<path d="M96.9 461.0 H101.2" fill="none" stroke="#111" stroke-width="0.95" />
<text x="94.8" y="463.9" font-size="7.9" text-anchor="end" fill="#111" stroke="#111" stroke-width="0.3">15</text>
<path d="M96.9 474.7 H101.2" fill="none" stroke="#111" stroke-width="0.95" />
<text x="94.8" y="477.6" font-size="7.9" text-anchor="end" fill="#111" stroke="#111" stroke-width="0.3">20</text>
<path d="M96.9 488.3 H101.2" fill="none" stroke="#111" stroke-width="0.95" />
<text x="94.8" y="491.2" font-size="7.9" text-anchor="end" fill="#111" stroke="#111" stroke-width="0.3">25</text>
<path d="M96.9 501.9 H101.2" fill="none" stroke="#111" stroke-width="0.95" />
<text x="94.8" y="504.8" font-size="7.9" text-anchor="end" fill="#111" stroke="#111" stroke-width="0.3">30</text>
<path d="M96.9 515.6 H101.2" fill="none" stroke="#111" stroke-width="0.95" />
<text x="94.8" y="518.5" font-size="7.9" text-anchor="end" fill="#111" stroke="#111" stroke-width="0.3">35</text>
<path d="M108.0 522.4 V526.6" fill="none" stroke="#111" stroke-width="0.85" />
<path d="M130.2 522.4 V526.6" fill="none" stroke="#111" stroke-width="0.85" />
<text x="130.2" y="534.3" font-size="8.2" text-anchor="middle" fill="#111" stroke="#111" stroke-width="0.3">100</text>
<path d="M152.5 522.4 V526.6" fill="none" stroke="#111" stroke-width="0.85" />
<text x="152.5" y="534.3" font-size="8.2" text-anchor="middle" fill="#111" stroke="#111" stroke-width="0.3">80</text>
<path d="M174.8 522.4 V526.6" fill="none" stroke="#111" stroke-width="0.85" />
<text x="174.8" y="534.3" font-size="8.2" text-anchor="middle" fill="#111" stroke="#111" stroke-width="0.3">60</text>
<path d="M197.0 522.4 V526.6" fill="none" stroke="#111" stroke-width="0.85" />
<text x="197.0" y="534.3" font-size="8.2" text-anchor="middle" fill="#111" stroke="#111" stroke-width="0.3">40</text>
<path d="M219.2 522.4 V526.6" fill="none" stroke="#111" stroke-width="0.85" />
<text x="219.2" y="534.3" font-size="8.2" text-anchor="middle" fill="#111" stroke="#111" stroke-width="0.3">20</text>
<path d="M241.5 522.4 V526.6" fill="none" stroke="#111" stroke-width="0.85" />
<text x="241.5" y="534.3" font-size="8.2" text-anchor="middle" fill="#111" stroke="#111" stroke-width="0.3">0</text>
<path d="M263.8 522.4 V526.6" fill="none" stroke="#111" stroke-width="0.85" />
<text x="262.6" y="534.3" font-size="8.2" text-anchor="middle" fill="#111" stroke="#111" stroke-width="0.3">–20</text>
<path d="M286.0 522.4 V526.6" fill="none" stroke="#111" stroke-width="0.85" />
<text x="284.8" y="534.3" font-size="8.2" text-anchor="middle" fill="#111" stroke="#111" stroke-width="0.3">–40</text>
<path d="M308.2 522.4 V526.6" fill="none" stroke="#111" stroke-width="0.85" />
<text x="307.1" y="534.3" font-size="8.2" text-anchor="middle" fill="#111" stroke="#111" stroke-width="0.3">–60</text>
<path d="M330.5 522.4 V526.6" fill="none" stroke="#111" stroke-width="0.85" />
<text x="329.3" y="534.3" font-size="8.2" text-anchor="middle" fill="#111" stroke="#111" stroke-width="0.3">–80</text>
<path d="M352.8 522.4 V526.6" fill="none" stroke="#111" stroke-width="0.85" />
<text x="351.6" y="534.3" font-size="8.2" text-anchor="middle" fill="#111" stroke="#111" stroke-width="0.3">–100</text>
<text x="186.9" y="543.5" font-size="9.8" fill="#111" stroke="#111" stroke-width="0.22" textLength="116.1" lengthAdjust="spacingAndGlyphs">Distance from thrust front (km)</text>
<text x="408.5" y="523.9" font-size="9.6" fill="#111" stroke="#111" stroke-width="0.22">C</text>
<path d="M102.2 440.5 L119.5 438.8 L141 439.1 L166.6 440.5 L195 440.7 L203.9 440.3 L213 440.2 L214.7 442.5 L225.8 444.4 L221 446.3 L226.8 448.1 L219.5 450.5 L219.5 450.7 L210.0 449.3 L201.0 450.6 L192.0 452.3 L185.7 453.7 L173.8 451.0 L161.8 450.5 L158.0 451.9 L152.3 452.2 L146.0 449.6 L139.5 448.4 L133.0 449.6 L125.0 452.2 L119.5 452.6 L109.3 449.3 L103.7 448.0 L102.6 447.6 L102.2 446 Z" fill="#dcdccf" />
<path d="M213 440.2 L227.7 439.8 L236.3 438.9 L241.5 438.3 L244.7 444.4 L245.7 448.2 L241.5 448.6 L236.3 449.1 L231 450.6 L226.8 452.3 L219.5 450.7 L219.5 450.5 L226.8 448.1 L221.0 446.3 L225.8 444.4 L214.7 442.5 L213.0 440.2 Z" fill="#fbdac2" />
<path d="M102.6 447.6 L103.7 448 L109.3 449.3 L119.5 452.6 L125 452.2 L133 449.6 L139.5 448.4 L146 449.6 L152.3 452.2 L158 451.9 L161.8 450.5 L173.8 451 L185.7 453.7 L192 452.3 L201 450.6 L210 449.3 L219.5 450.7 L226.8 452.3 L226.8 452.6 L235.2 455.4 L232.6 457.5 L238.9 460.2 L231 463.5 L233 464.9 L118 464.9 L113.8 459.8 L108.7 454 Z" fill="#2e7444" />
<path d="M118 464.8 L233 464.8 L240 465.8 L250 468.1 L260.7 469.9 L253.6 471.7 L263.1 474.1 L257.2 475.9 L267.9 480.1 L253 483.4 L269.1 487.2 L260.7 489 L276.8 493.2 L274.5 495 L290.6 498 L287 499.7 L294.2 500.9 L290.6 502.7 L300 503.9 L246.6 502.8 L233 504 L213.9 506 L195 504.8 L166.6 504 L153.6 503.7 L150 501.6 L165.8 499.6 L146.3 494 L155.9 492.5 L142.7 487.3 L158.2 486.1 L139.2 482 L145.1 481.3 L135.6 477.7 L139.2 475.8 L127.4 476 L120.9 475.6 L120.9 471.2 L118 464.8 Z" fill="#4ac2f0" />
<path d="M128.4 475.8 L139.2 475.8 L135.6 477.7 L145.1 481.3 L139.2 482 L158.2 486.1 L142.7 487.3 L155.9 492.5 L146.3 494 L165.8 499.6 L150 501.6 L153.6 503.7 L147.2 499.9 L140.3 493.4 L133.2 483.7 Z" fill="#3fc41e" />
<path d="M232.7 503.2 L246.6 502.8 L287.7 503.6 L300 503.9 L306.8 505.3 L318.8 507.3 L340 511.3 L342.9 512.5 L376.3 516.1 L340 514.2 L287.7 511.9 L244.9 509.8 Z" fill="#a02cb0" />
<path d="M193.6 503.7 L232.7 503.6 L238 504.4 L235.5 505.2 L241 505.8 L238.5 506.8 L243 507.5 L243.5 509.7 L225 507.7 L207.9 505.9 Z" fill="#2b3a9c" />
<path d="M226.8 452.3 L231 450.6 L236.3 449.1 L241.5 448.6 L245.7 448.1 L252.4 455 L261.9 466.3 L273.9 478.9 L285.8 490.2 L297.7 499.7 L306 503.8 L318.8 507.3 L306.8 505.3 L300 503.9 L300 503.9 L290.6 502.7 L294.2 500.9 L287 499.7 L290.6 498 L274.5 495 L276.8 493.2 L260.7 489 L269.1 487.2 L253 483.4 L267.9 480.1 L257.2 475.9 L263.1 474.1 L253.6 471.7 L260.7 469.9 L250 468.1 L240 465.8 L233 464.8 L231 463.5 L238.9 460.2 L232.6 457.5 L235.2 455.4 L226.8 452.6 Z" fill="#ff6212" />
<path d="M226.8 452.6 L235.2 455.4 L232.6 457.5 L238.9 460.2 L231 463.5 L233 464.8 L240 465.8 L250 468.1 L260.7 469.9 L253.6 471.7 L263.1 474.1 L257.2 475.9 L267.9 480.1 L253 483.4 L269.1 487.2 L260.7 489 L276.8 493.2 L274.5 495 L290.6 498 L287 499.7 L294.2 500.9 L290.6 502.7 L300 503.9" fill="none" stroke="#1a1a1a" stroke-width="0.45" stroke-linejoin="round"/>
<path d="M102.6 447.6 C102.8 447.7 102.6 447.7 103.7 448 C104.8 448.3 106.7 448.5 109.3 449.3 C111.9 450.1 116.9 452.1 119.5 452.6 C122.1 453.1 122.8 452.7 125 452.2 C127.2 451.7 130.6 450.2 133 449.6 C135.4 449.0 137.3 448.4 139.5 448.4 C141.7 448.4 143.9 449.0 146 449.6 C148.1 450.2 150.3 451.8 152.3 452.2 C154.3 452.6 156.4 452.2 158 451.9 C159.6 451.6 159.2 450.6 161.8 450.5 C164.4 450.4 169.8 450.5 173.8 451 C177.8 451.5 182.7 453.5 185.7 453.7 C188.7 453.9 189.4 452.8 192 452.3 C194.6 451.8 198.0 451.1 201 450.6 C204.0 450.1 206.9 449.3 210 449.3 C213.1 449.3 216.7 450.2 219.5 450.7 C222.3 451.2 224.9 452.3 226.8 452.3 C228.7 452.3 229.4 451.1 231 450.6 C232.6 450.1 234.6 449.4 236.3 449.1 C238.1 448.8 239.9 448.8 241.5 448.6 C243.1 448.5 245.0 448.3 245.7 448.2" fill="none" stroke="#111" stroke-width="1.2" />
<path d="M213 440.2 L214.7 442.5 L225.8 444.4 L221 446.3 L226.8 448.1 L219.5 450.5" fill="none" stroke="#111" stroke-width="0.7" />
<path d="M102.2 440.5 L119.5 438.8 L141 439.1 L166.6 440.5 L195 440.7 L203.9 440.3 L227.7 439.8 L236.3 438.9 L241.5 438.3" fill="none" stroke="#111" stroke-width="1.0" stroke-dasharray="1.2 1.1" />
<path d="M103.4 448.2 L108.7 454 L113.8 459.8 L118 464.8 L120.9 471.2 L120.9 475.6 L128.4 475.9 L133.2 483.7 L140.3 493.4 L147.2 499.9 L153.6 503.7 L166.6 504.1 L195 504.9 L213.9 506.5 L244.9 510 L287.7 512 L340 514.3 L376.3 516.3 L401.3 516.9" fill="none" stroke="#111" stroke-width="1.0" stroke-dasharray="1.2 1.1" />
<path d="M241.5 438.3 L244.7 444.4 L246 447.9 L252.4 454.8 L261.9 466.1 L273.9 478.7 L285.8 490 L297.7 499.5 L306 503.6 L318.8 507.2 L340 511.2 L342.9 512.3 L376.3 516" fill="none" stroke="#111" stroke-width="1.15" stroke-dasharray="1.4 1.4" />
<path d="M246.4 448.5 V509.6" fill="none" stroke="#fff" stroke-width="1.3" />
<path d="M304.4 501.2 H363.2" fill="none" stroke="#111" stroke-width="0.8" />
<text x="220.6" y="412.9" font-size="8.8" fill="#111" stroke="#111" stroke-width="0.22" textLength="65.2" lengthAdjust="spacingAndGlyphs">Basal Alpine Thrust</text>
<path d="M243.3 432 L242.4 417.9 M241.6 420.6 L242.4 417.9 L245 422" fill="none" stroke="#111" stroke-width="1.15" stroke-linejoin="miter"/>
<text x="184.3" y="448" font-size="9.6" fill="#111" stroke="#111" stroke-width="0.22" textLength="26.7" lengthAdjust="spacingAndGlyphs">Eroded</text>
<text x="190.7" y="460.2" font-size="7.6" fill="#fff" stroke="#fff" stroke-width="0.22" textLength="15.1" lengthAdjust="spacingAndGlyphs">OSM</text>
<text x="190.7" y="472.6" font-size="8" fill="#0a1c30" stroke="#0a1c30" stroke-width="0.22" textLength="16.0" lengthAdjust="spacingAndGlyphs">OMM</text>
<text x="164.7" y="485.4" font-size="8" fill="#0a1c30" stroke="#0a1c30" stroke-width="0.22" textLength="68.7" lengthAdjust="spacingAndGlyphs">Nantesbuch sandstone</text>
<text x="176.1" y="495.4" font-size="8" fill="#0a1c30" stroke="#0a1c30" stroke-width="0.22" textLength="44.9" lengthAdjust="spacingAndGlyphs">Chattian sands</text>
<text x="249.2" y="449.9" font-size="8" fill="#111" stroke="#111" stroke-width="0.22" textLength="20.3" lengthAdjust="spacingAndGlyphs">Mega-</text>
<text x="257.3" y="457.5" font-size="8" fill="#111" stroke="#111" stroke-width="0.22" textLength="13.3" lengthAdjust="spacingAndGlyphs">fans</text>
<text x="157.5" y="512.4" font-size="6.0" fill="#111" stroke="#111" stroke-width="0.2" textLength="41.7" lengthAdjust="spacingAndGlyphs">Section displaying</text>
<text x="157.5" y="520.1" font-size="6.0" fill="#111" stroke="#111" stroke-width="0.2" textLength="39.4" lengthAdjust="spacingAndGlyphs">subsidence rates</text>
<path d="M204.3 514 L241.4 487.1" fill="none" stroke="#111" stroke-width="0.9" />
<path d="M245.4 484.2 L242.5 488.7 L240.2 485.6 Z" fill="#111" />
<text x="296" y="511.3" font-size="8" fill="#4a1260" stroke="#4a1260" stroke-width="0.22" textLength="14.4" lengthAdjust="spacingAndGlyphs">NHF</text>
<text x="292" y="491.3" font-size="10.3" fill="#111" stroke="#111" stroke-width="0.22" textLength="54.4" lengthAdjust="spacingAndGlyphs">Molasse stage</text>
<text x="339.3" y="510.9" font-size="10.3" fill="#111" stroke="#111" stroke-width="0.22" textLength="47.7" lengthAdjust="spacingAndGlyphs">Flysch stage</text>
</svg>
</body></html>
